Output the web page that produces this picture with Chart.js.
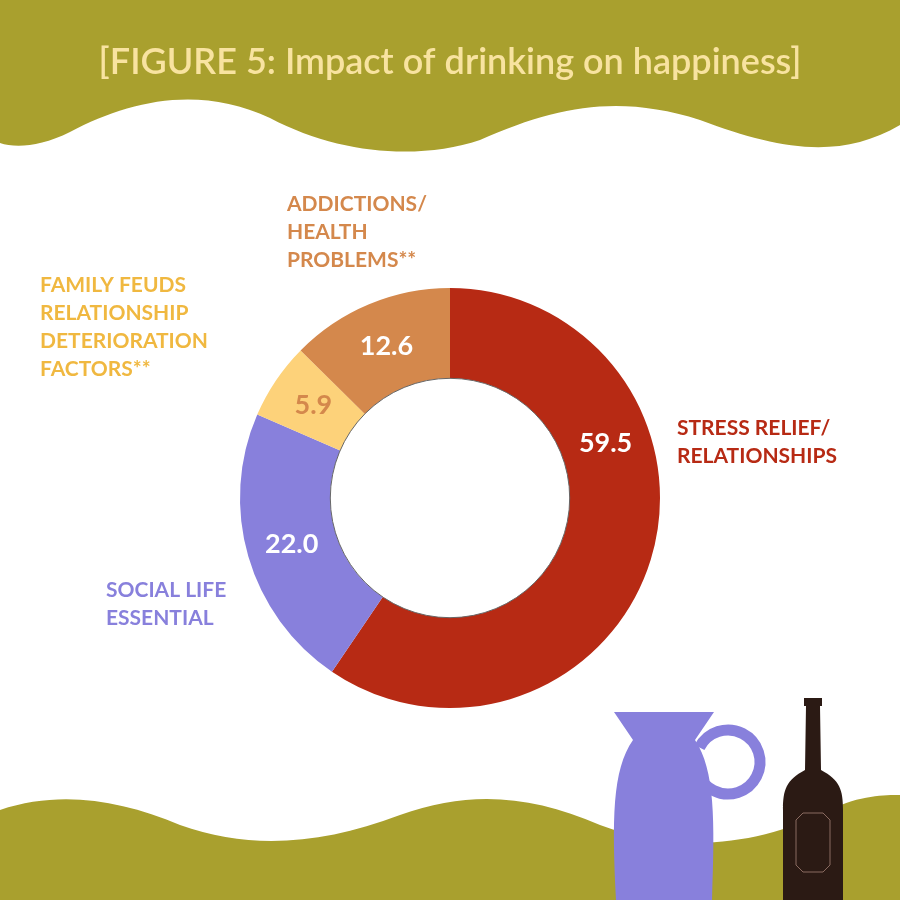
<!DOCTYPE html>
<html><head><meta charset="utf-8">
<script src="https://cdn.jsdelivr.net/npm/chart.js@4"></script>
<style>body{margin:0;background:#fff}#c{display:block}</style>
</head><body>
<div style="width:900px;height:900px"><canvas id="c" width="900" height="900"></canvas></div>
<script>
const categories = ["STRESS RELIEF/\nRELATIONSHIPS", "SOCIAL LIFE\nESSENTIAL", "FAMILY FEUDS\nRELATIONSHIP\nDETERIORATION\nFACTORS**", "ADDICTIONS/\nHEALTH\nPROBLEMS**"];
const values = [59.5, 22.0, 5.9, 12.6];
const colors = ["#b72a14", "#8880dc", "#fdd27a", "#d4884c"];
const labelPos = [[677, 418], [106, 580], [40, 275], [287, 194]];
const labelColors = ["#b72a14", "#8880dc", "#f0b840", "#d4884c"];
const valueFrac = [0.33, 0.5, 0.5, 0.5];
const olive = "#a9a02e";

const deco = {
  id: "deco",
  beforeDraw(chart) {
    const ctx = chart.ctx;
    ctx.save();
    ctx.fillStyle = olive;
    ctx.beginPath();
    ctx.moveTo(0, 0); ctx.lineTo(900, 0); ctx.lineTo(900, 125);
    ctx.bezierCurveTo(840, 160, 780, 150, 700, 120);
    ctx.bezierCurveTo(620, 95, 560, 105, 480, 140);
    ctx.bezierCurveTo(420, 160, 340, 155, 270, 118);
    ctx.bezierCurveTo(200, 85, 130, 100, 70, 132);
    ctx.bezierCurveTo(40, 147, 15, 148, 0, 143);
    ctx.closePath(); ctx.fill();
    ctx.beginPath();
    ctx.moveTo(0, 900); ctx.lineTo(0, 810);
    ctx.bezierCurveTo(60, 790, 120, 800, 180, 825);
    ctx.bezierCurveTo(250, 850, 320, 845, 400, 815);
    ctx.bezierCurveTo(470, 790, 530, 795, 600, 825);
    ctx.bezierCurveTo(680, 855, 760, 845, 830, 810);
    ctx.bezierCurveTo(860, 795, 885, 795, 900, 795);
    ctx.lineTo(900, 900); ctx.closePath(); ctx.fill();
    // jug
    ctx.fillStyle = "#8880dc";
    ctx.strokeStyle = "#8880dc"; ctx.lineWidth = 11;
    ctx.beginPath(); ctx.arc(728, 762, 32, -Math.PI * 0.85, Math.PI * 0.75); ctx.stroke();
    ctx.beginPath();
    ctx.moveTo(614, 712); ctx.lineTo(714, 712); ctx.lineTo(695, 740);
    ctx.bezierCurveTo(715, 770, 715, 820, 712, 900);
    ctx.lineTo(616, 900);
    ctx.bezierCurveTo(612, 820, 612, 770, 633, 740);
    ctx.closePath(); ctx.fill();
    // bottle
    ctx.fillStyle = "#2b1a14";
    ctx.fillRect(804, 698, 18, 8);
    ctx.beginPath();
    ctx.moveTo(806, 706); ctx.lineTo(820, 706); ctx.lineTo(821, 770);
    ctx.bezierCurveTo(840, 780, 843, 790, 843, 810);
    ctx.lineTo(843, 900); ctx.lineTo(783, 900); ctx.lineTo(783, 810);
    ctx.bezierCurveTo(783, 790, 786, 780, 805, 770);
    ctx.closePath(); ctx.fill();
    ctx.strokeStyle = "#8a6a60"; ctx.lineWidth = 1;
    ctx.beginPath();
    ctx.moveTo(796, 820); ctx.lineTo(803, 813); ctx.lineTo(823, 813); ctx.lineTo(830, 820);
    ctx.lineTo(830, 865); ctx.lineTo(823, 872); ctx.lineTo(803, 872); ctx.lineTo(796, 865);
    ctx.closePath(); ctx.stroke();
    ctx.fillStyle = "#f8e3a0";
    ctx.font = "600 36px Lato";
    ctx.textAlign = "center"; ctx.textBaseline = "middle";
    ctx.fillText("[FIGURE 5: Impact of drinking on happiness]", 450, 62);
    ctx.restore();
  },
  afterDraw(chart) {
    const ctx = chart.ctx;
    const meta = chart.getDatasetMeta(0);
    ctx.save();
    const a0 = meta.data[0];
    ctx.strokeStyle = "#666"; ctx.lineWidth = 1;
    ctx.beginPath(); ctx.arc(a0.x, a0.y, a0.innerRadius, 0, Math.PI * 2); ctx.stroke();
    ctx.textAlign = "center"; ctx.textBaseline = "middle";
    ctx.font = "bold 27px Lato";
    meta.data.forEach((arc, i) => {
      const ang = arc.startAngle + (arc.endAngle - arc.startAngle) * valueFrac[i];
      const r = (arc.innerRadius + arc.outerRadius) / 2;
      ctx.fillStyle = i === 2 ? "#d4884c" : "#fff";
      ctx.fillText(values[i].toFixed(1), arc.x + Math.cos(ang) * r, arc.y + Math.sin(ang) * r);
    });
    ctx.textAlign = "left"; ctx.textBaseline = "top";
    ctx.font = "bold 21px Lato";
    categories.forEach((c, i) => {
      ctx.fillStyle = labelColors[i];
      c.split("\n").forEach((line, j) => ctx.fillText(line, labelPos[i][0], labelPos[i][1] + j * 28));
    });
    ctx.restore();
  }
};

new Chart(document.getElementById("c"), {
  type: "doughnut",
  data: { labels: categories, datasets: [{ data: values, backgroundColor: colors, borderWidth: 0 }] },
  options: {
    responsive: false, animation: false, cutout: "57%",
    layout: { padding: { left: 240, right: 240, top: 288, bottom: 192 } },
    plugins: { legend: { display: false }, tooltip: { enabled: false } }
  },
  plugins: [deco]
});
</script>
</body></html>
